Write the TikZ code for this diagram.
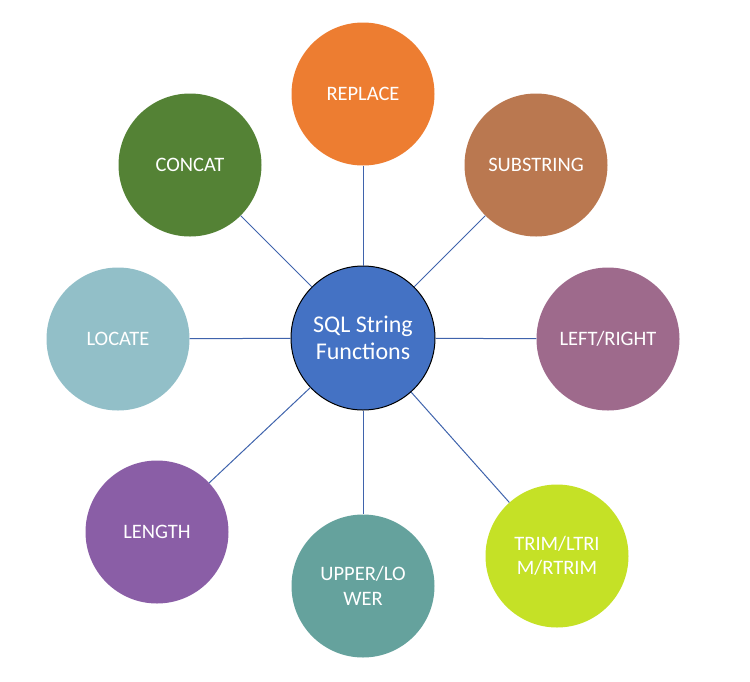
\documentclass[tikz,border=0pt]{standalone}
\usepackage{fontspec}
\setmainfont{Carlito}
\definecolor{centreblue}{HTML}{4472C4}
\definecolor{linkblue}{HTML}{3F63AC}
\definecolor{replaceorange}{HTML}{ED7D31}
\definecolor{substrbrown}{HTML}{BA7850}
\definecolor{leftrightmauve}{HTML}{9E6A8C}
\definecolor{trimlime}{HTML}{C5E126}
\definecolor{upperteal}{HTML}{65A29D}
\definecolor{lengthpurple}{HTML}{8A5EA6}
\definecolor{locateblue}{HTML}{92BFC8}
\definecolor{concatgreen}{HTML}{548235}
\begin{document}
\begin{tikzpicture}[x=1pt,y=-1pt,
    func/.style={circle,minimum size=143pt,inner sep=0pt,text=white,
        align=center,font=\fontsize{20.5}{24.5}\selectfont},
    link/.style={linkblue,line width=1pt}]
    \useasboundingbox (0,0) rectangle (750,681);
    \node[circle,draw=black,line width=1pt,fill=centreblue,minimum size=144pt,inner sep=0pt,
        text=white,align=center,font=\fontsize{24}{27}\selectfont] at (363,338) (sql) {SQL String\\Functions};
    \node[func,fill=replaceorange] at (363,94) (n1) {REPLACE};
    \node[func,fill=substrbrown] at (536,165) (n2) {SUBSTRING};
    \node[func,fill=leftrightmauve] at (608,339) (n3) {LEFT/RIGHT};
    \node[func,fill=trimlime] at (557,556) (n4) {TRIM/LTRI\\M/RTRIM};
    \node[func,fill=upperteal] at (363,586) (n5) {UPPER/LO\\WER};
    \node[func,fill=lengthpurple] at (157,532) (n6) {LENGTH};
    \node[func,fill=locateblue] at (118,339) (n7) {LOCATE};
    \node[func,fill=concatgreen] at (190,165) (n8) {CONCAT};
    \draw[link] (sql)--(n1);
    \draw[link] (sql)--(n2);
    \draw[link] (sql)--(n3);
    \draw[link] (sql)--(n4);
    \draw[link] (sql)--(n5);
    \draw[link] (sql)--(n6);
    \draw[link] (sql)--(n7);
    \draw[link] (sql)--(n8);
\end{tikzpicture}
\end{document}
